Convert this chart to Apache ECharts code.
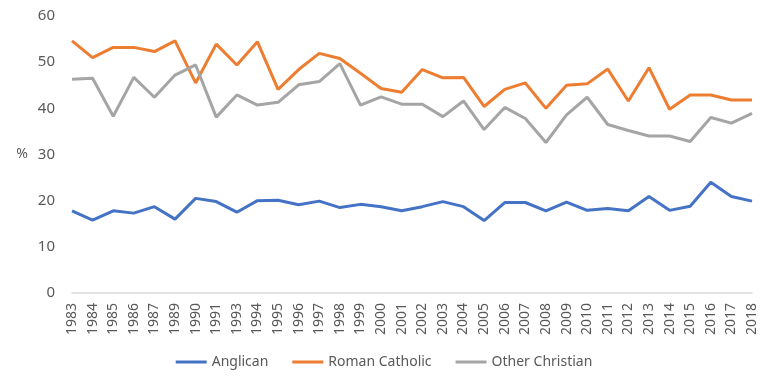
<!DOCTYPE html>
<html>
<head>
<meta charset="utf-8">
<script src="https://cdn.jsdelivr.net/npm/echarts@6/dist/echarts.min.js"></script>
<style>html,body{margin:0;padding:0;background:#fff}#c{width:768px;height:384px}</style>
</head>
<body>
<div id="c"></div>
<script>
const years = ['1983','1984','1985','1986','1987','1989','1990','1991','1993','1994','1995','1996','1997','1998','1999','2000','2001','2002','2003','2004','2005','2006','2007','2008','2009','2010','2011','2012','2013','2014','2015','2016','2017','2018'];
const anglican = [17.8,15.8,17.8,17.3,18.7,16.0,20.5,19.8,17.5,20.0,20.1,19.1,19.9,18.5,19.2,18.7,17.8,18.7,19.8,18.7,15.7,19.6,19.6,17.8,19.7,17.9,18.3,17.8,20.9,17.9,18.8,24.0,20.9,19.9];
const romanCatholic = [54.6,51.0,53.2,53.2,52.3,54.6,45.5,53.9,49.4,54.4,44.1,48.4,51.9,50.8,47.6,44.3,43.5,48.4,46.6,46.7,40.4,44.1,45.5,40.0,45.0,45.3,48.5,41.6,48.8,39.8,42.9,42.9,41.8,41.8];
const otherChristian = [46.3,46.5,38.3,46.7,42.4,47.2,49.4,38.1,42.9,40.7,41.3,45.1,45.8,49.7,40.7,42.5,40.9,40.9,38.2,41.6,35.4,40.2,37.8,32.6,38.6,42.4,36.5,35.2,34.0,34.0,32.8,38.0,36.8,38.9];
const yTicks = {min:0, max:60, interval:10};

const font = 'Noto Sans';
const txt = '#595959';
const chart = echarts.init(document.getElementById('c'));
function s(name, data, color){
  return {name, type:'line', data, symbol:'none', smooth:false,
    lineStyle:{width:3, color}, itemStyle:{color}};
}
chart.setOption({
  animation:false,
  textStyle:{fontFamily:font},
  grid:{left:72, right:16, top:16, bottom:91},
  legend:{bottom:10, left:'center', icon:'rect', itemWidth:31, itemHeight:3, itemGap:24,
    textStyle:{color:txt, fontSize:14, fontFamily:font},
    data:['Anglican','Roman Catholic','Other Christian']},
  xAxis:{type:'category', data:years, boundaryGap:false,
    axisLine:{lineStyle:{color:'#D9D9D9', width:1.5}}, axisTick:{show:false},
    axisLabel:{rotate:90, color:txt, fontSize:14, fontFamily:font, interval:0, margin:10}},
  yAxis:{type:'value', min:yTicks.min, max:yTicks.max, interval:yTicks.interval,
    name:'%', nameLocation:'middle', nameRotate:0, nameGap:44,
    nameTextStyle:{color:txt, fontSize:14, fontFamily:font},
    splitLine:{show:false}, axisLine:{show:false}, axisTick:{show:false},
    axisLabel:{color:txt, fontSize:15, fontFamily:font, margin:17}},
  series:[s('Anglican',anglican,'#4472C4'), s('Roman Catholic',romanCatholic,'#ED7D31'), s('Other Christian',otherChristian,'#A5A5A5')]
});
</script>
</body>
</html>
